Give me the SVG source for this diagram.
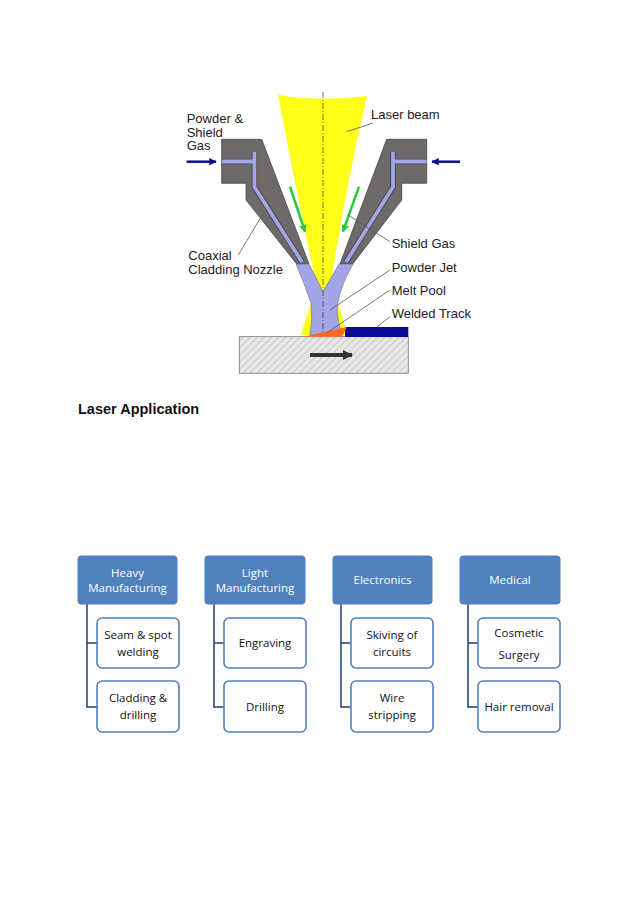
<svg xmlns="http://www.w3.org/2000/svg" width="638" height="902" viewBox="0 0 638 902">
<defs>
<pattern id="hatch" width="5" height="5" patternUnits="userSpaceOnUse" patternTransform="rotate(45)"><rect width="5" height="5" fill="#e8e8e8"/><line x1="0" y1="0" x2="0" y2="5" stroke="#9a9a9a" stroke-width="0.8"/></pattern>
<marker id="ab" viewBox="0 0 10 10" refX="9" refY="5" markerWidth="3" markerHeight="3" orient="auto"><path d="M0,0L10,5L0,10z" fill="#10108a"/></marker>
<marker id="ag" viewBox="0 0 10 10" refX="9" refY="5" markerWidth="3" markerHeight="3" orient="auto"><path d="M0,0L10,5L0,10z" fill="#22cc33"/></marker>
<marker id="ad" viewBox="0 0 10 10" refX="9" refY="5" markerWidth="2.5" markerHeight="2.5" orient="auto"><path d="M0,0L10,5L0,10z" fill="#333"/></marker>
</defs>
<style>
.lbl{font-family:"Liberation Sans",Arial,sans-serif;font-size:13px;fill:#222}
.ld{stroke:#555;stroke-width:0.8;fill:none}
.hd{fill:#4f81bd;stroke:#4f81bd}
.ch{fill:#fff;stroke:#4f81bd;stroke-width:1.6}
.ht{font-family:"Open Sans","Liberation Sans",sans-serif;font-size:11.5px;fill:#fff;text-anchor:middle}
.ct{font-family:"Open Sans","Liberation Sans",sans-serif;font-size:11.5px;fill:#111;text-anchor:middle}
.tr{stroke:#1f3f6f;stroke-width:1.5;fill:none}
</style>
<rect width="638" height="902" fill="#fff"/>
<g id="illustration">
<rect x="239.3" y="336.7" width="169" height="36.6" fill="url(#hatch)" stroke="#777" stroke-width="0.8"/>
<path d="M278,95 Q322,102 367,96 Q345,190 330,288 Q342,310 347,335 L301,335 Q308,310 317,288 Q296,190 278,95Z" fill="#ffff1a"/>
<path d="M221.7,139.3 L261.7,139.3 L309,264 L296.7,264 L246,200 L246,183.3 L221.7,183.3Z" fill="#6f6a6a" stroke="#444" stroke-width="0.8"/>
<path d="M386.7,139.3 L426.7,139.3 L426.7,183.3 L401.7,183.3 L401.7,200 L352.7,264 L340,264Z" fill="#6f6a6a" stroke="#444" stroke-width="0.8"/>
<path d="M221.7,161.5 L254.5,161.5 M254.5,152 L254.5,187 L302,262" fill="none" stroke="#444" stroke-width="5.5"/>
<path d="M221.7,161.5 L254.5,161.5 M254.5,152 L254.5,187 L302,262" fill="none" stroke="#a4a4e8" stroke-width="3.8"/>
<path d="M426.7,161.5 L393,161.5 M393,152 L393,187 L346,262" fill="none" stroke="#444" stroke-width="5.5"/>
<path d="M426.7,161.5 L393,161.5 M393,152 L393,187 L346,262" fill="none" stroke="#a4a4e8" stroke-width="3.8"/>
<path d="M296,264 L309,264 L323,291.7 L339,264 L353,264 Q338,290 337,310 Q338,325 343,335 L310,335 Q313,320 311,303 Q305,285 296,264Z" fill="#a4a4e8" stroke="#666" stroke-width="0.6"/>
<line x1="323" y1="92" x2="323" y2="336" stroke="#333" stroke-width="0.7" stroke-dasharray="6,2,1,2"/>
<rect x="345" y="327" width="63.3" height="10" fill="#0a0a90"/>
<path d="M303,336.7 L347,327 L342,336.7Z" fill="#ff6a1a"/>
<line x1="310" y1="355" x2="352" y2="355" stroke="#333" stroke-width="4" marker-end="url(#ad)"/>
<line x1="186.7" y1="161.7" x2="216" y2="161.7" stroke="#10108a" stroke-width="2.5" marker-end="url(#ab)"/>
<line x1="460" y1="161.7" x2="432" y2="161.7" stroke="#10108a" stroke-width="2.5" marker-end="url(#ab)"/>
<line x1="290" y1="186.7" x2="305" y2="231.7" stroke="#22cc33" stroke-width="2.5" marker-end="url(#ag)"/>
<line x1="359" y1="186.7" x2="343" y2="231.7" stroke="#22cc33" stroke-width="2.5" marker-end="url(#ag)"/>
<path class="ld" d="M346.7,131.7 L373,123 M348,215 L390,241.7 M330,310 L390,270 M326.7,333 L390,290 M376.7,327 L390,316.7 M263.3,213.3 L238.3,255"/>
<text class="lbl" x="186.7" y="123">Powder &amp;</text>
<text class="lbl" x="186.7" y="136.5">Shield</text>
<text class="lbl" x="186.7" y="150">Gas</text>
<text class="lbl" x="371" y="119">Laser beam</text>
<text class="lbl" x="391.7" y="248">Shield Gas</text>
<text class="lbl" x="391.7" y="272">Powder Jet</text>
<text class="lbl" x="391.7" y="295">Melt Pool</text>
<text class="lbl" x="391.7" y="318">Welded Track</text>
<text class="lbl" x="188.3" y="259.5">Coaxial</text>
<text class="lbl" x="188.3" y="273.5">Cladding Nozzle</text>
</g>
<text x="78" y="414" font-family="Liberation Sans,Arial,sans-serif" font-size="14.5" font-weight="bold" fill="#111">Laser Application</text>
<g id="connectors">
<path class="tr" d="M87,604 V707 H97 M87,643 H97"/>
<path class="tr" d="M214,604 V707 H224 M214,643 H224"/>
<path class="tr" d="M341,604 V707 H351 M341,643 H351"/>
<path class="tr" d="M468,604 V707 H478 M468,643 H478"/>
</g>
<g id="heavy"><rect class="hd" x="78" y="556" width="99" height="48" rx="3"/><text class="ht" x="127.5" y="577">Heavy</text><text class="ht" x="127.5" y="592">Manufacturing</text></g>
<g id="light"><rect class="hd" x="205" y="556" width="100" height="48" rx="3"/><text class="ht" x="255" y="577">Light</text><text class="ht" x="255" y="592">Manufacturing</text></g>
<g id="electronics"><rect class="hd" x="333" y="556" width="99" height="48" rx="3"/><text class="ht" x="382.5" y="584">Electronics</text></g>
<g id="medical"><rect class="hd" x="460" y="556" width="100" height="48" rx="3"/><text class="ht" x="510" y="584">Medical</text></g>
<g id="seam"><rect class="ch" x="97" y="618" width="82" height="50" rx="5"/><text class="ct" x="138" y="639">Seam &amp; spot</text><text class="ct" x="138" y="656">welding</text></g>
<g id="cladding"><rect class="ch" x="97" y="681" width="82" height="51" rx="5"/><text class="ct" x="138" y="702">Cladding &amp;</text><text class="ct" x="138" y="719">drilling</text></g>
<g id="engraving"><rect class="ch" x="224" y="618" width="82" height="50" rx="5"/><text class="ct" x="265" y="647">Engraving</text></g>
<g id="drilling"><rect class="ch" x="224" y="681" width="82" height="51" rx="5"/><text class="ct" x="265" y="711">Drilling</text></g>
<g id="skiving"><rect class="ch" x="351" y="618" width="82" height="50" rx="5"/><text class="ct" x="392" y="639">Skiving of</text><text class="ct" x="392" y="656">circuits</text></g>
<g id="wire"><rect class="ch" x="351" y="681" width="82" height="51" rx="5"/><text class="ct" x="392" y="702">Wire</text><text class="ct" x="392" y="719">stripping</text></g>
<g id="cosmetic"><rect class="ch" x="478" y="618" width="82" height="50" rx="5"/><text class="ct" x="519" y="637">Cosmetic</text><text class="ct" x="519" y="659">Surgery</text></g>
<g id="hair"><rect class="ch" x="478" y="681" width="82" height="51" rx="5"/><text class="ct" x="519" y="711">Hair removal</text></g>
</svg>
